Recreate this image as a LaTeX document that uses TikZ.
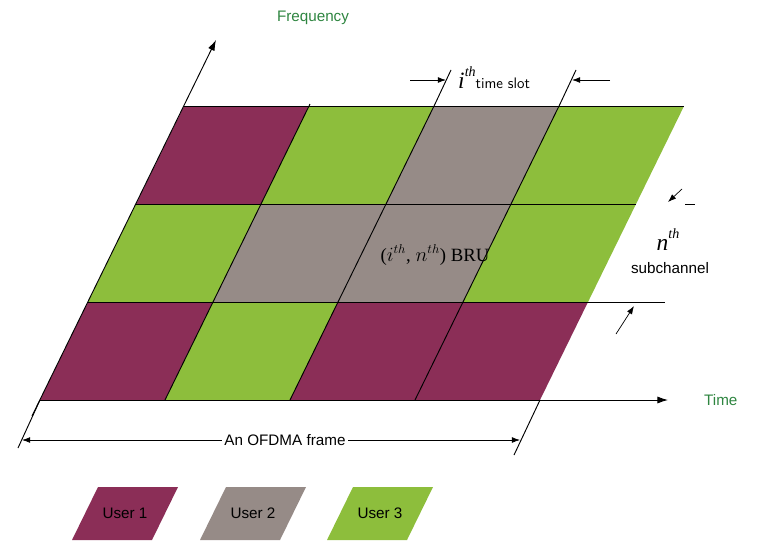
\documentclass[tikz,border=0pt]{standalone}
\usepackage{fontspec}
\setmainfont{Liberation Sans}
\newfontfamily\serifrm{Liberation Serif}
\usetikzlibrary{arrows.meta}
\definecolor{uone}{HTML}{8B2E57}
\definecolor{utwo}{HTML}{968B87}
\definecolor{uthree}{HTML}{8DBE3C}
\definecolor{axisgreen}{HTML}{2E8540}
\begin{document}
\begin{tikzpicture}[x=0.03cm,y=-0.03cm,>={Latex[length=9pt,width=6pt]}]
\tikzset{
  cell/.style={draw=black, line width=0.8pt},
  axis/.style={line width=0.8pt,->},
  dim/.style={line width=0.6pt,->,>={Latex[length=7pt,width=5pt]}},
  lbl/.style={font=\fontsize{13pt}{15pt}\selectfont},
}
\useasboundingbox (0,0) rectangle (766,557);
% grid cells: row 0 at bottom
\foreach \row/\cols in {0/{uone,uthree,uone,uone},1/{uthree,utwo,utwo,uthree},2/{uone,uthree,utwo,uthree}}{
  \foreach \c [count=\i from 0] in \cols {
    \pgfmathsetmacro\yb{400-98*\row}
    \pgfmathsetmacro\xb{40+125*\i+0.49*98*\row}
    \fill[\c] (\xb,\yb) -- ++(125,0) -- ++(48,-98) -- ++(-125,0) -- cycle;
  }
}
\foreach \row in {0,1,2,3}{
  \pgfmathsetmacro\yb{400-98*\row}
  \pgfmathsetmacro\xb{40+0.49*98*\row}
  \draw[line width=0.8pt] (\xb,\yb) -- ++(500,0);
}
\foreach \i in {1,2,3}{
  \draw[line width=0.8pt] (40+125*\i,400) -- ++(145,-296);
}
% axes
\coordinate (o) at (40,400);
\coordinate (fo) at (32,416);
\coordinate (ftip) at (216,40);
\coordinate (ttip) at (668,400);
\draw[axis] (fo) -- (ftip);
\draw[axis] (o) -- (ttip);
\node[lbl,text=axisgreen] (freq) at (313,18) {Frequency};
\node[lbl,text=axisgreen,anchor=west] (time) at (700,400) {Time};
% time slot marks
\draw[line width=0.8pt] (435,104) -- (451,70);
\draw[line width=0.8pt] (560,104) -- (576,70);
\coordinate (sa) at (410,80); \coordinate (sb) at (446,80);
\coordinate (sc) at (610,80); \coordinate (sd) at (572,80);
\draw[dim] (sa) -- (sb);
\draw[dim] (sc) -- (sd);
\node[anchor=west,inner sep=0pt] (slot) at (458,78) {\serifrm\fontsize{20pt}{20pt}\selectfont\itshape i\raisebox{1.1ex}{\fontsize{12pt}{12pt}\selectfont th}\normalfont\sffamily\fontsize{13pt}{15pt}\selectfont time slot};
% subchannel marks
\draw[line width=0.8pt] (685,204) -- (695,204);
\draw[line width=0.8pt] (540,302) -- (665,302);
\coordinate (ca) at (682,189); \coordinate (cb) at (668,202);
\coordinate (cc) at (616,334); \coordinate (cd) at (634,306);
\draw[dim] (ca) -- (cb);
\draw[dim] (cc) -- (cd);
\node (nth) at (668,240) {\serifrm\fontsize{20pt}{20pt}\selectfont\itshape n\raisebox{1.1ex}{\fontsize{12pt}{12pt}\selectfont th}};
\node[lbl] (sub) at (670,268) {subchannel};
\node (bru) at (435,255) {\serifrm\fontsize{16pt}{16pt}\selectfont ($i^{th}$, $n^{th}$) BRU};
% frame dimension
\draw[line width=0.8pt] (40,400) -- (18,448);
\draw[line width=0.8pt] (540,400) -- (514,455);
\coordinate (fa) at (285,440); \coordinate (fl) at (22,440); \coordinate (fr) at (520,440);
\draw[dim] (fa) -- (fl);
\draw[dim] (fa) -- (fr);
\node[lbl,fill=white,inner sep=2pt] (frame) at (285,440) {An OFDMA frame};
% legend
\foreach \c/\t/\x in {uone/User 1/72,utwo/User 2/200,uthree/User 3/327}{
  \fill[\c] (\x,540) -- ++(80,0) -- ++(26,-53) -- ++(-80,0) -- cycle;
  \node[lbl] (leg\x) at (\x+53,513) {\t};
}
\end{tikzpicture}
\end{document}
